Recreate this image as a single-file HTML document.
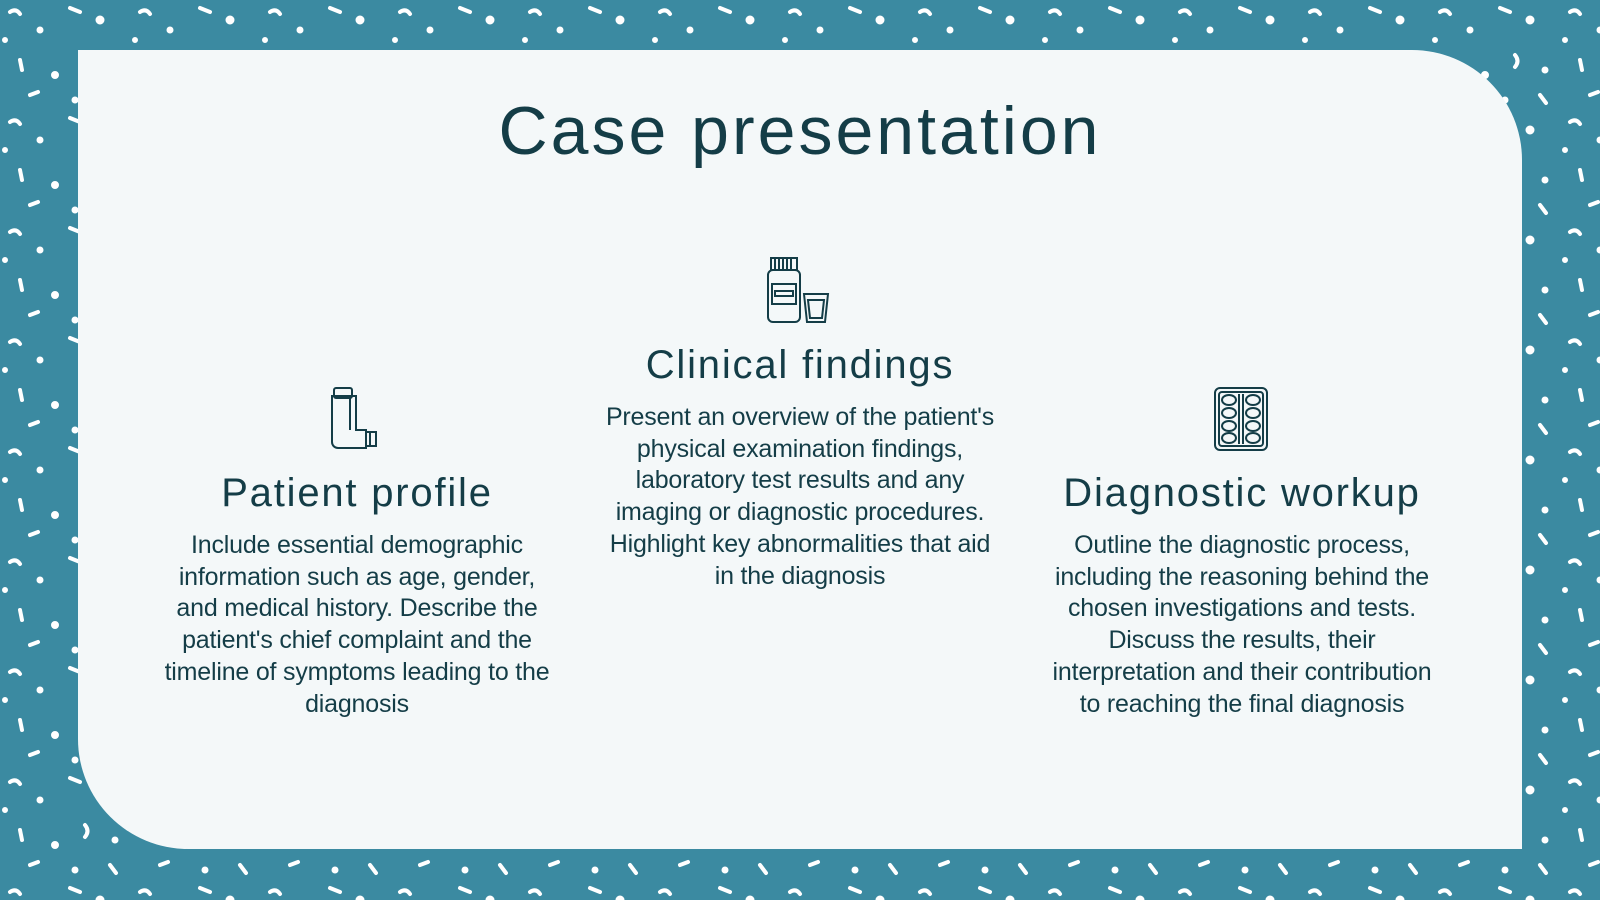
<!DOCTYPE html>
<html><head><meta charset="utf-8">
<style>
html,body{margin:0;padding:0}
body{width:1600px;height:900px;position:relative;overflow:hidden;background:#3b8aa1;font-family:"Liberation Sans",sans-serif;color:#143d47}
#bg{position:absolute;left:0;top:0}
.card{position:absolute;left:78px;top:50px;width:1444px;height:799px;background:#f4f8f9;border-radius:0 110px 0 110px}
h1{position:absolute;left:0;width:1600px;top:92px;margin:0;text-align:center;font-size:68px;font-weight:normal;letter-spacing:3px}
.col{position:absolute;width:500px;text-align:center}
.col h2{margin:0;font-size:40px;font-weight:normal;letter-spacing:1.8px;line-height:50px}
.col p{margin:12px 0 0;font-size:25px;line-height:31.7px;white-space:nowrap;letter-spacing:-0.2px}
svg.ic{position:absolute}
</style></head><body>
<svg id="bg" width="1600" height="900">
<defs><pattern id="sp" width="130" height="110" patternUnits="userSpaceOnUse">
<g fill="#fff" stroke="#fff" stroke-linecap="round">
<path d="M10 12 q6 -4 10 2" stroke-width="4" fill="none"/>
<circle cx="40" cy="30" r="3"/>
<path d="M70 8 l10 4" stroke-width="4"/>
<circle cx="100" cy="20" r="4"/>
<path d="M20 60 l2 10" stroke-width="4"/>
<circle cx="55" cy="75" r="3.5"/>
<path d="M85 55 q5 6 0 12" stroke-width="4" fill="none"/>
<circle cx="115" cy="70" r="3"/>
<path d="M30 95 l8 -3" stroke-width="4"/>
<circle cx="75" cy="100" r="3"/>
<path d="M110 95 l6 8" stroke-width="4"/>
<circle cx="5" cy="40" r="2.5"/>
</g></pattern></defs>
<rect width="1600" height="900" fill="url(#sp)"/>
</svg>
<div class="card"></div>
<h1>Case presentation</h1>

<svg class="ic" style="left:766px;top:256px" width="68" height="68" viewBox="0 0 68 68" fill="none" stroke="#143d47" stroke-width="2">
<rect x="5" y="2" width="26" height="12"/>
<path d="M9 2v12M13 2v12M17 2v12M21 2v12M25 2v12"/>
<rect x="2" y="14" width="32" height="52" rx="5"/>
<rect x="6" y="28" width="24" height="20"/>
<rect x="9" y="35" width="18" height="5"/>
<path d="M38 38h24l-3 28h-18z"/>
<path d="M42 44h16l-2 18h-12z"/>
</svg>
<div class="col" style="left:550px;top:340px"><h2>Clinical findings</h2>
<p>Present an overview of the patient's<br>physical examination findings,<br>laboratory test results and any<br>imaging or diagnostic procedures.<br>Highlight key abnormalities that aid<br>in the diagnosis</p></div>

<svg class="ic" style="left:330px;top:386px" width="56" height="66" viewBox="0 0 56 66" fill="none" stroke="#143d47" stroke-width="2">
<rect x="4" y="2" width="18" height="10" rx="2"/>
<path d="M2 10h24v34h10v18H8a6 6 0 0 1 -6 -6z"/>
<path d="M20 12v32"/>
<rect x="36" y="46" width="10" height="14"/>
<path d="M40 46v14"/>
</svg>
<div class="col" style="left:107px;top:468px"><h2>Patient profile</h2>
<p>Include essential demographic<br>information such as age, gender,<br>and medical history. Describe the<br>patient's chief complaint and the<br>timeline of symptoms leading to the<br>diagnosis</p></div>

<svg class="ic" style="left:1213px;top:386px" width="56" height="66" viewBox="0 0 56 66" fill="none" stroke="#143d47" stroke-width="2">
<rect x="2" y="2" width="52" height="62" rx="5"/>
<rect x="6" y="6" width="44" height="54" rx="3"/>
<path d="M26 8v50M30 8v50"/>
<ellipse cx="16" cy="14" rx="7" ry="5"/><ellipse cx="40" cy="14" rx="7" ry="5"/>
<ellipse cx="16" cy="27" rx="7" ry="5"/><ellipse cx="40" cy="27" rx="7" ry="5"/>
<ellipse cx="16" cy="40" rx="7" ry="5"/><ellipse cx="40" cy="40" rx="7" ry="5"/>
<ellipse cx="16" cy="52" rx="7" ry="5"/><ellipse cx="40" cy="52" rx="7" ry="5"/>
</svg>
<div class="col" style="left:992px;top:468px"><h2>Diagnostic workup</h2>
<p>Outline the diagnostic process,<br>including the reasoning behind the<br>chosen investigations and tests.<br>Discuss the results, their<br>interpretation and their contribution<br>to reaching the final diagnosis</p></div>
</body></html>
